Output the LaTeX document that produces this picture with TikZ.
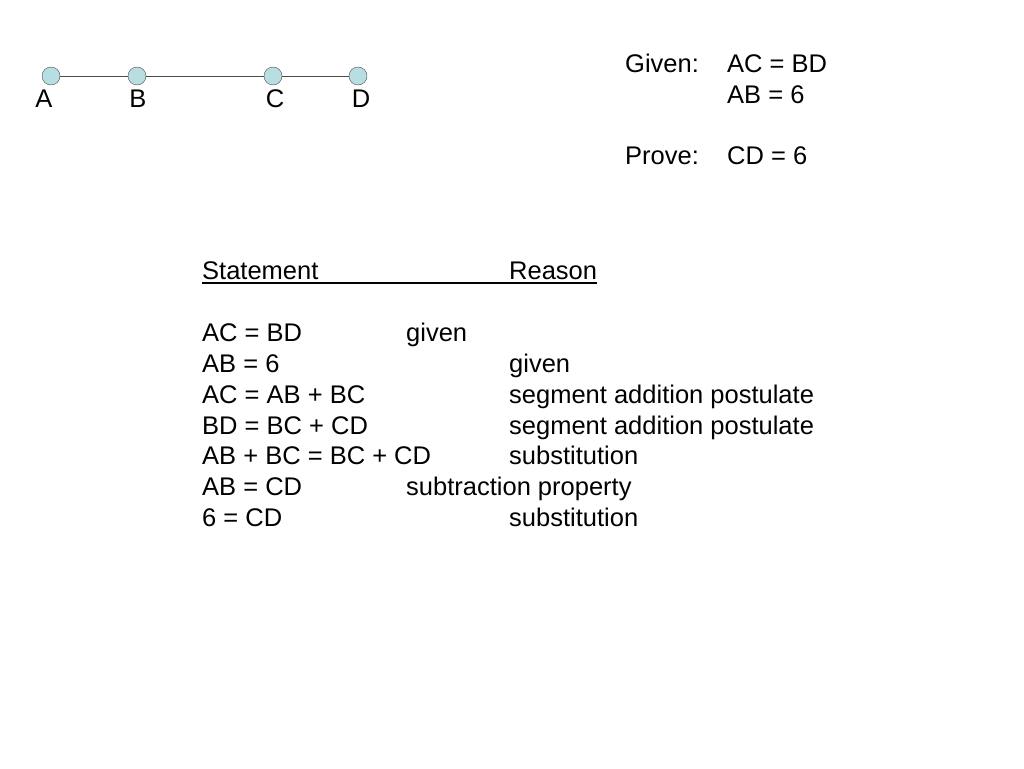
\documentclass[tikz,border=0pt]{standalone}
\usepackage{fontspec}
\setmainfont{Liberation Sans}
\begin{document}
\begin{tikzpicture}[x=1pt,y=-1pt]
	\tikzstyle{every node}+=[inner sep=0pt, font=\fontsize{25.5}{30}\selectfont]
	\tikzstyle{pt}=[circle, draw=black!70, fill={rgb,255:red,184;green,222;blue,226}, minimum size=18pt]
	\tikzstyle{txt}=[anchor=base west]
	\useasboundingbox (0,0) rectangle (1024,768);
	\node [pt] (A) at (51,76) {};
	\node [pt] (B) at (137,76) {};
	\node [pt] (C) at (273,76) {};
	\node [pt] (D) at (358,76) {};
	\draw [black!70] (A) -- (B) -- (C) -- (D);
	\node (lA) at (44,99) {A};
	\node (lB) at (138,99) {B};
	\node (lC) at (275,99) {C};
	\node (lD) at (361,99) {D};
	\node [txt] (g) at (625,72) {Given:};
	\node [txt] (g1) at (727,72) {AC = BD};
	\node [txt] (g2) at (727,103) {AB = 6};
	\node [txt] (p) at (625,164) {Prove:};
	\node [txt] (p1) at (727,164) {CD = 6};
	\node [txt] (hs) at (202,279) {Statement};
	\node [txt] (hr) at (509,279) {Reason};
	\draw [line width=1.2pt] (hs.base west) ++(0,4) coordinate (u) -- (u -| hr.east);
	\node [txt] (s1) at (202,341) {AC = BD};
	\node [txt] (r1) at (406,341) {given};
	\node [txt] (s2) at (202,372) {AB = 6};
	\node [txt] (r2) at (509,372) {given};
	\node [txt] (s3) at (202,403) {AC = AB + BC};
	\node [txt] (r3) at (509,403) {segment addition postulate};
	\node [txt] (s4) at (202,434) {BD = BC + CD};
	\node [txt] (r4) at (509,434) {segment addition postulate};
	\node [txt] (s5) at (202,464) {AB + BC = BC + CD};
	\node [txt] (r5) at (509,464) {substitution};
	\node [txt] (s6) at (202,495) {AB = CD};
	\node [txt] (r6) at (406,495) {subtraction property};
	\node [txt] (s7) at (202,526) {6 = CD};
	\node [txt] (r7) at (509,526) {substitution};
\end{tikzpicture}
\end{document}
